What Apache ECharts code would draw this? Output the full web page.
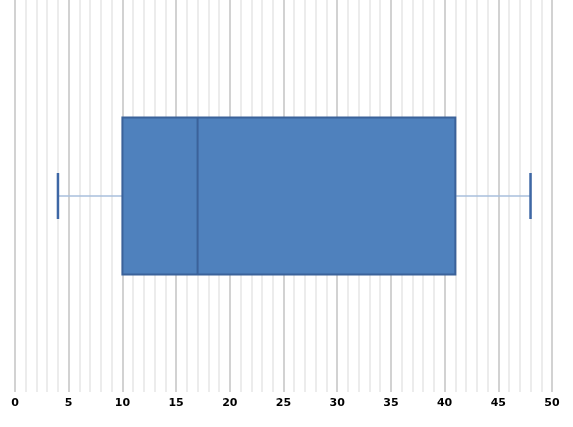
<!DOCTYPE html>
<html><head><meta charset="utf-8">
<script src="https://cdn.jsdelivr.net/npm/echarts@6/dist/echarts.min.js"></script>
<style>html,body{margin:0;background:#fff}#c{width:573px;height:427px}</style>
</head><body><div id="c"></div>
<script>
// five-number summary: min, q1, median, q3, max
var categories = ['A'];
var boxValues = [[4, 10, 17, 41, 48]];
var tickLabels = [0, 5, 10, 15, 20, 25, 30, 35, 40, 45, 50];

var chart = echarts.init(document.getElementById('c'));

function renderBox(params, api) {
    var y = api.value(0);
    var mn = api.coord([api.value(1), y]);
    var q1 = api.coord([api.value(2), y]);
    var md = api.coord([api.value(3), y]);
    var q3 = api.coord([api.value(4), y]);
    var mx = api.coord([api.value(5), y]);
    var bh = 157, ch = 46, cy = mn[1];
    return {
        type: 'group',
        children: [
            { type: 'line', shape: { x1: mn[0], y1: cy, x2: q1[0], y2: cy }, style: { stroke: '#a9bfdc', lineWidth: 1.5 } },
            { type: 'line', shape: { x1: q3[0], y1: cy, x2: mx[0], y2: cy }, style: { stroke: '#a9bfdc', lineWidth: 1.5 } },
            { type: 'line', shape: { x1: mn[0], y1: cy - ch / 2, x2: mn[0], y2: cy + ch / 2 }, style: { stroke: '#3e67a5', lineWidth: 2.5 } },
            { type: 'line', shape: { x1: mx[0], y1: cy - ch / 2, x2: mx[0], y2: cy + ch / 2 }, style: { stroke: '#3e67a5', lineWidth: 2.5 } },
            { type: 'rect', shape: { x: q1[0], y: cy - bh / 2, width: q3[0] - q1[0], height: bh }, style: { fill: '#4f81bd', stroke: '#3b629a', lineWidth: 2 } },
            { type: 'line', shape: { x1: md[0], y1: cy - bh / 2, x2: md[0], y2: cy + bh / 2 }, style: { stroke: '#3b629a', lineWidth: 2 } }
        ]
    };
}

chart.setOption({
    animation: false,
    grid: { left: 15, right: 21, top: 0, bottom: 35 },
    xAxis: {
        type: 'value', min: 0, max: 50, interval: 5,
        axisLine: { show: false }, axisTick: { show: false },
        axisLabel: {
            margin: 6, color: '#000', fontWeight: 'bold', fontSize: 11, fontFamily: 'DejaVu Sans',
            formatter: function (v) { return tickLabels.indexOf(v) >= 0 ? String(v) : ''; }
        },
        splitLine: { show: true, lineStyle: { color: '#d2d2d2', width: 2 } },
        minorTick: { show: false, splitNumber: 5 },
        minorSplitLine: { show: true, lineStyle: { color: '#ececec', width: 2 } }
    },
    yAxis: { type: 'category', data: categories, show: false },
    series: [{
        type: 'custom',
        renderItem: renderBox,
        encode: { y: 0, x: [1, 2, 3, 4, 5] },
        data: boxValues.map(function (b, i) { return [i].concat(b); })
    }]
});
</script></body></html>
